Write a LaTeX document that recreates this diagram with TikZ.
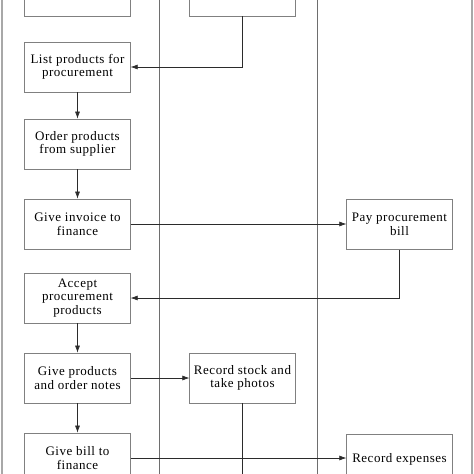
\documentclass[tikz,border=0pt]{standalone}
\usepackage{fontspec}
\setmainfont[LetterSpace=4]{Liberation Serif}
\usetikzlibrary{positioning,arrows.meta}
\definecolor{boxgray}{HTML}{808080}
\definecolor{lanegray}{HTML}{6E6E6E}
\definecolor{framegray}{HTML}{A8A8A8}
\definecolor{inkgray}{HTML}{2B2B2B}
\tikzset{
  taskbox/.style={draw=boxgray, line width=0.8pt, fill=white, minimum width=105.5pt, minimum height=50pt,
    align=center, inner sep=2pt, font=\fontsize{13}{13.6}\selectfont},
  flow/.style={draw=inkgray, line width=0.6pt, -{Latex[length=7pt,width=5pt]}},
  lane/.style={draw=lanegray, line width=0.6pt}
}

\begin{document}
\begin{tikzpicture}[x=1pt,y=-1pt]
\useasboundingbox (0,0) rectangle (474,474);
\clip (0,0) rectangle (474,474);
% frame and swim lanes
\draw[framegray, line width=2.2pt] (2,-5) -- (2,480) (472,-5) -- (472,480);
\draw[lane] (159.5,-5) -- (159.5,480) (316.8,-5) -- (316.8,480);
% boxes of the first lane
\foreach \n/\y/\txt in {topl/-9/{},list/67/{List products for\\procurement},order/144/{Order products\\from supplier},invoice/224/{Give invoice to\\finance},accept/298/{Accept\\procurement\\products},give/378/{Give products\\and order notes},bill/458/{Give bill to\\finance}} {
  \node[taskbox] (\n) at (77.5,\y) {\txt};
}
% other lanes
\node[taskbox] (topm) at (242.5,-9) {};
\node[taskbox] (stock) at (242.5,378) {Record stock and\\take photos};
\node[taskbox] (pay) at (399.5,224.5) {Pay procurement\\bill};
\node[taskbox] (expenses) at (399.5,459) {Record expenses};
\coordinate (stockend) at (242.5,480);
% connectors
\foreach \a/\b in {list/order,order/invoice,accept/give,give/bill} {
  \draw[flow] (\a) -- (\b);
}
\draw[flow] (topm.south) |- (list.east);
\draw[flow] (invoice.east) -- (invoice.east -| pay.west);
\draw[flow] (pay.south) |- (accept.east);
\draw[flow] (give.east) -- (stock.west);
\draw[flow] (bill.east) -- (bill.east -| expenses.west);
\draw[draw=inkgray, line width=0.6pt] (stock.south) -- (stockend);
\end{tikzpicture}
\end{document}
